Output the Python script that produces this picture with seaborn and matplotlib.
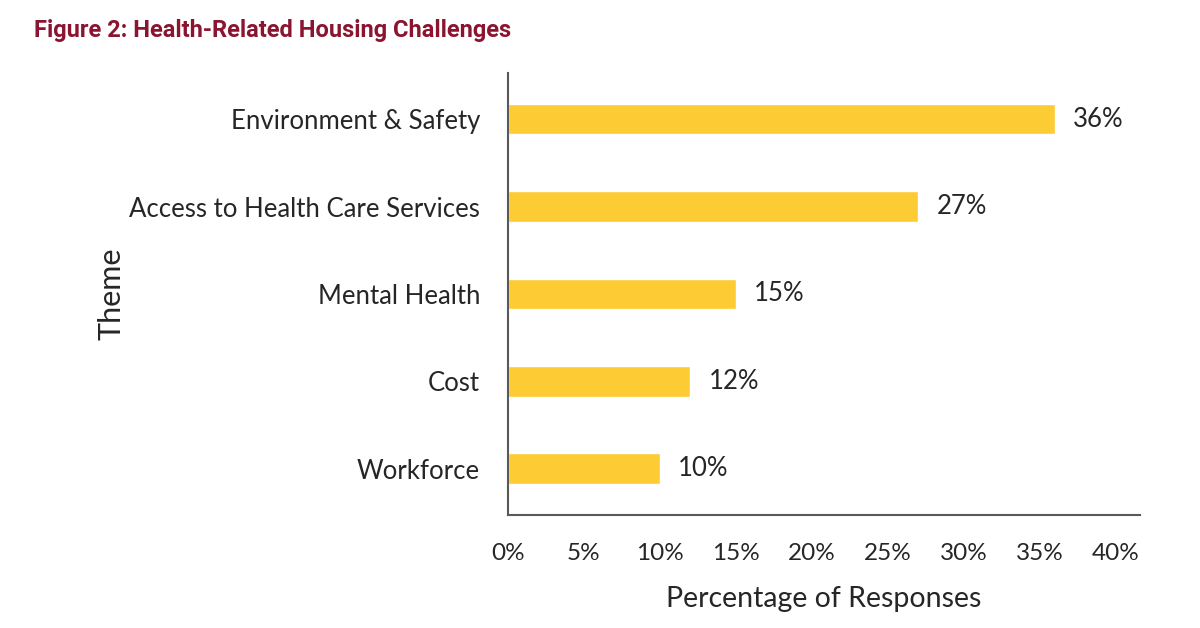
import matplotlib
matplotlib.use('Agg')
import matplotlib.pyplot as plt
import seaborn as sns
import pandas as pd

# ===== DATA =====
themes = ["Environment & Safety", "Access to Health Care Services",
          "Mental Health", "Cost", "Workforce"]
pct = [36, 27, 15, 12, 10]
xticks = [0, 5, 10, 15, 20, 25, 30, 35, 40]

df = pd.DataFrame({"theme": themes, "pct": pct})

# ===== STYLE =====
sns.set_theme(style="white")
plt.rcParams['font.family'] = ['Lato', 'DejaVu Sans']

fig = plt.figure(figsize=(12, 6.28), dpi=100)
ax = fig.add_axes([0.4233, 0.18, 0.5267, 0.704])

sns.barplot(data=df, x="pct", y="theme", color="#FDCB33", width=0.35,
            saturation=1, ax=ax)

for i, v in enumerate(pct):
    ax.text(v + 1.2, i, f"{v}%", va="center", ha="left",
            fontsize=18.5, color="#262626")

ax.set_xlim(0, 41.6)
ax.set_ylim(4.53, -0.53)
ax.set_xticks(xticks)
ax.set_xticklabels([f"{t}%" for t in xticks])
ax.tick_params(axis="x", length=0, pad=20, labelsize=17.5, labelcolor="#262626")
ax.tick_params(axis="y", length=0, pad=20, labelsize=18.5, labelcolor="#262626")

for s in ["top", "right"]:
    ax.spines[s].set_visible(False)
for s in ["left", "bottom"]:
    ax.spines[s].set_color("#595959")
    ax.spines[s].set_linewidth(1.5)

ax.set_xlabel("Percentage of Responses", fontsize=20.5, color="#262626", labelpad=16)
ax.set_ylabel("Theme", fontsize=22, color="#262626")
ax.yaxis.set_label_coords(-0.605, 0.5)

fig.text(0.028, 0.952, "Figure 2: Health-Related Housing Challenges",
         fontsize=17, fontweight="bold", color="#8B1530", family="Roboto",
         ha="left", va="center")

fig.savefig("out.png", dpi=100, facecolor="white")
plt.close(fig)
